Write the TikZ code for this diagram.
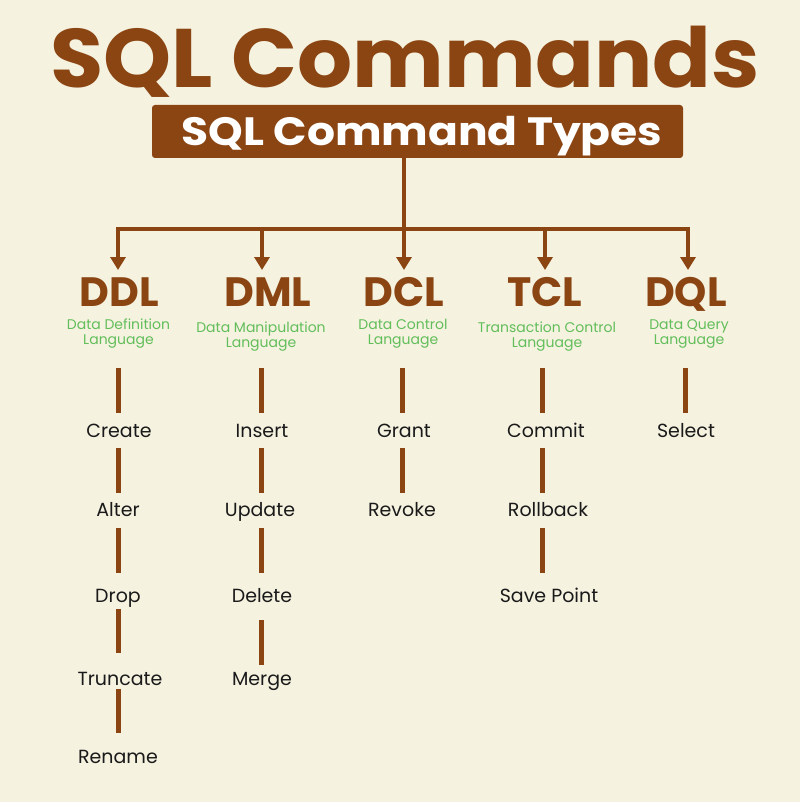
\documentclass[tikz,border=0pt]{standalone}
\usepackage{fontspec}
\usepackage{graphicx}
\setmainfont{Poppins}
\usetikzlibrary{arrows.meta}
\definecolor{bg}{RGB}{245,242,224}
\definecolor{brn}{RGB}{139,69,19}
\definecolor{grn}{RGB}{98,190,90}
\definecolor{ink}{RGB}{26,26,26}
\tikzset{
  title/.style={font=\fontsize{83}{83}\selectfont\bfseries, text=brn, anchor=base, inner sep=0pt},
  boxtxt/.style={font=\fontsize{39.5}{40}\selectfont\bfseries, text=white, anchor=base, inner sep=0pt},
  head/.style={font=\fontsize{41}{41}\selectfont\bfseries, text=brn, anchor=base, inner sep=0pt},
  sub/.style={font=\fontsize{14}{15}\selectfont, text=grn, anchor=base, inner sep=0pt, align=center},
  item/.style={font=\fontsize{19}{19}\selectfont, text=ink, anchor=base, inner sep=0pt},
  link/.style={draw=brn, line width=4pt},
  arr/.style={link, -{Triangle[width=15pt,length=13pt]}},
  bar/.style={draw=brn, line width=5pt},
}
\begin{document}
\begin{tikzpicture}[x=1pt,y=-1pt]
\fill[bg] (0,0) rectangle (800,802);
\useasboundingbox (0,0) rectangle (800,802);
\node[title] (t) at (405,88) {\scalebox{1.043}[1]{SQL Commands}};
\fill[brn, rounded corners=3pt] (152,105) rectangle (683,158);
\node[inner sep=0pt, minimum width=531pt, minimum height=53pt] (box) at (417.5,131.5) {};
\node[boxtxt] (bt) at (422,145.5) {\scalebox{1.114}[1]{SQL Command Types}};
\coordinate (hub) at (404,229);
\coordinate (hl) at (118,229);
\coordinate (hm) at (262,229);
\coordinate (hr1) at (545,229);
\coordinate (hr) at (688,229);
\draw[link] (box.south -| hub) -- (hub);
\draw[link, line cap=rect] (hl) -- (hr);
\coordinate (a1) at (118,270);
\coordinate (a2) at (262,270);
\coordinate (a3) at (404,270);
\coordinate (a4) at (545,270);
\coordinate (a5) at (688,270);
\draw[arr] (hl) -- (a1);
\draw[arr] (hm) -- (a2);
\draw[arr] (hub) -- (a3);
\draw[arr] (hr1) -- (a4);
\draw[arr] (hr) -- (a5);
% headings
\node[head] (ddl) at (119,306) {DDL};
\node[head] (dml) at (268,306) {DML};
\node[head] (dcl) at (404,306) {DCL};
\node[head] (tcl) at (545,306) {TCL};
\node[head] (dql) at (686,306) {DQL};
\node[sub] (sddl) at (118.5,344) {Data Definition\\Language};
\node[sub] (sdml) at (261,347) {Data Manipulation\\Language};
\node[sub] (sdcl) at (403,344) {Data Control\\Language};
\node[sub] (stcl) at (547,347) {Transaction Control\\Language};
\node[sub] (sdql) at (689,344) {Data Query\\Language};
% bars
\foreach \x/\ya/\yb in {118/368/413, 118/448/493, 118/528/573, 118/609/653, 118/689/733,
  261/368/413, 261/448/493, 261/528/573, 261/620/665,
  402/368/413, 402/448/493,
  542/368/413, 542/448/493, 542/528/573,
  685/368/413}
  \draw[bar] (\x,\ya) -- (\x,\yb);
% items
\node[item] (create) at (119,437) {Create};
\node[item] (alter) at (118,516) {Alter};
\node[item] (drop) at (118,602) {Drop};
\node[item] (trunc) at (120,685) {Truncate};
\node[item] (rename) at (118,763) {Rename};
\node[item] (insert) at (262,437) {Insert};
\node[item] (update) at (260,516) {Update};
\node[item] (delete) at (262,602) {Delete};
\node[item] (merge) at (262,685) {Merge};
\node[item] (grant) at (404,437) {Grant};
\node[item] (revoke) at (402,516) {Revoke};
\node[item] (commit) at (546,437) {Commit};
\node[item] (rollback) at (548,516) {Rollback};
\node[item] (save) at (549,602) {Save Point};
\node[item] (select) at (686,437) {Select};
\end{tikzpicture}
\end{document}
